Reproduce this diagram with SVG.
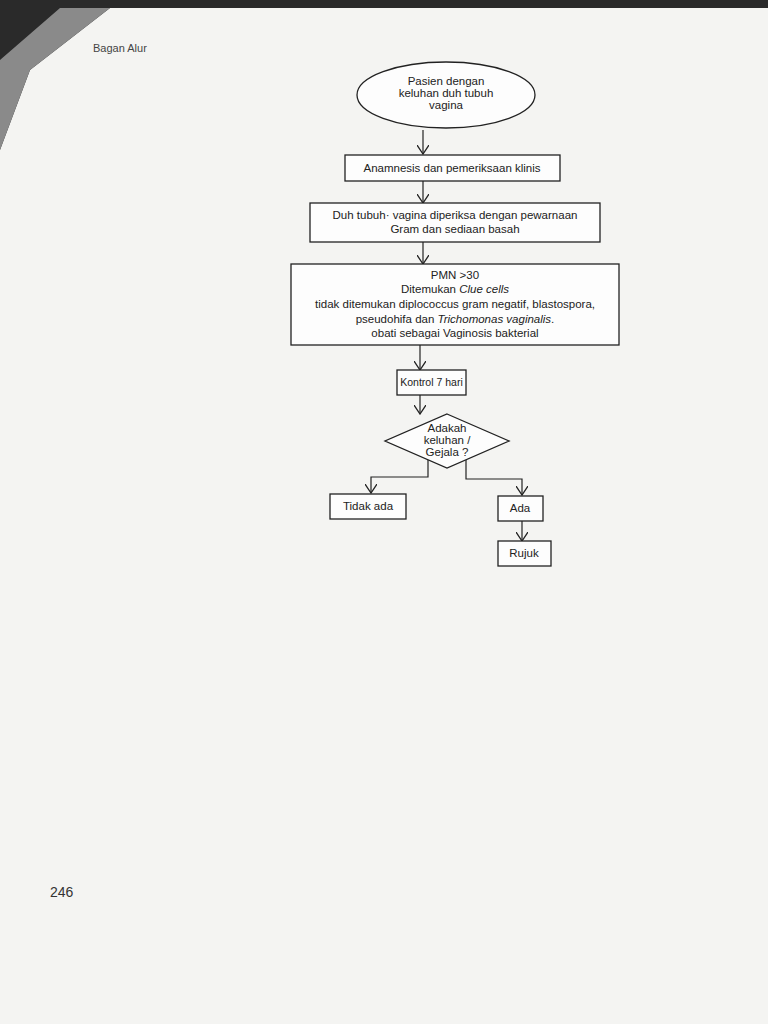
<svg xmlns="http://www.w3.org/2000/svg" width="768" height="1024" viewBox="0 0 768 1024">
<defs>
<marker id="ah" markerWidth="10" markerHeight="12" refX="9" refY="6" orient="auto" markerUnits="userSpaceOnUse" viewBox="0 0 10 12">
<path d="M0,0 L9,6 L0,12" fill="none" stroke="#222" stroke-width="1.3"/>
</marker>
<style>
.n{fill:#fdfdfd;stroke:#222;stroke-width:1.3}
.t{font-family:"Liberation Sans",Arial,sans-serif;font-size:11.5px;fill:#222;text-anchor:middle}
.c{fill:none;stroke:#222;stroke-width:1.2;marker-end:url(#ah)}
</style>
</defs>
<rect width="768" height="1024" fill="#f4f4f2"/>
<path d="M0,0 L768,0 L768,8 L110,8 L30,70 L0,150 Z" fill="#2a2a2a"/>
<path d="M0,150 L30,70 L110,8 L60,8 L0,60 Z" fill="#8a8a8a"/>
<text x="93" y="52" font-family="Liberation Sans,Arial,sans-serif" font-size="11" fill="#444">Bagan Alur</text>
<text x="50" y="897" font-family="Liberation Sans,Arial,sans-serif" font-size="14" fill="#333">246</text>
<g id="connectors">
<path class="c" d="M423,130 V154"/>
<path class="c" d="M423,181 V203"/>
<path class="c" d="M423,242 V264"/>
<path class="c" d="M420,345 V370"/>
<path class="c" d="M420,395 V414"/>
<path class="c" d="M428,460 V477 H371 V493"/>
<path class="c" d="M466,460 V479 H522 V495"/>
<path class="c" d="M522,521 V541"/>
</g>
<g id="start"><ellipse class="n" cx="446" cy="95" rx="89" ry="33"/>
<text class="t" x="446" y="85">Pasien  dengan</text><text class="t" x="446" y="97">keluhan duh tubuh</text><text class="t" x="446" y="109">vagina</text></g>
<g id="anamnesis"><rect class="n" x="345" y="155" width="215" height="26"/><text class="t" x="452" y="172">Anamnesis dan pemeriksaan klinis</text></g>
<g id="periksa"><rect class="n" x="310" y="203" width="290" height="39"/><text class="t" x="455" y="219">Duh tubuh· vagina diperiksa dengan pewarnaan</text><text class="t" x="455" y="233">Gram  dan sediaan basah</text></g>
<g id="hasil"><rect class="n" x="291" y="264" width="328" height="81"/>
<text class="t" x="455" y="279">PMN &gt;30</text>
<text class="t" x="455" y="293">Ditemukan <tspan font-style="italic">Clue cells</tspan></text>
<text class="t" x="455" y="308">tidak ditemukan diplococcus gram negatif, blastospora,</text>
<text class="t" x="455" y="323">pseudohifa dan <tspan font-style="italic">Trichomonas vaginalis</tspan>.</text>
<text class="t" x="455" y="337">obati  sebagai Vaginosis bakterial</text></g>
<g id="kontrol"><rect class="n" x="397" y="370" width="69" height="25"/><text class="t" x="431.5" y="386" style="font-size:10.5px">Kontrol 7 hari</text></g>
<g id="decision"><polygon class="n" points="447,414 509,441 447,468 385,441"/>
<text class="t" x="447" y="432">Adakah</text><text class="t" x="447" y="444">keluhan /</text><text class="t" x="447" y="456">Gejala ?</text></g>
<g id="tidak"><rect class="n" x="330" y="494" width="76" height="25"/><text class="t" x="368" y="510">Tidak ada</text></g>
<g id="ada"><rect class="n" x="498" y="496" width="45" height="25"/><text class="t" x="520" y="512">Ada</text></g>
<g id="rujuk"><rect class="n" x="498" y="541" width="53" height="25"/><text class="t" x="524" y="557">Rujuk</text></g>
</svg>
